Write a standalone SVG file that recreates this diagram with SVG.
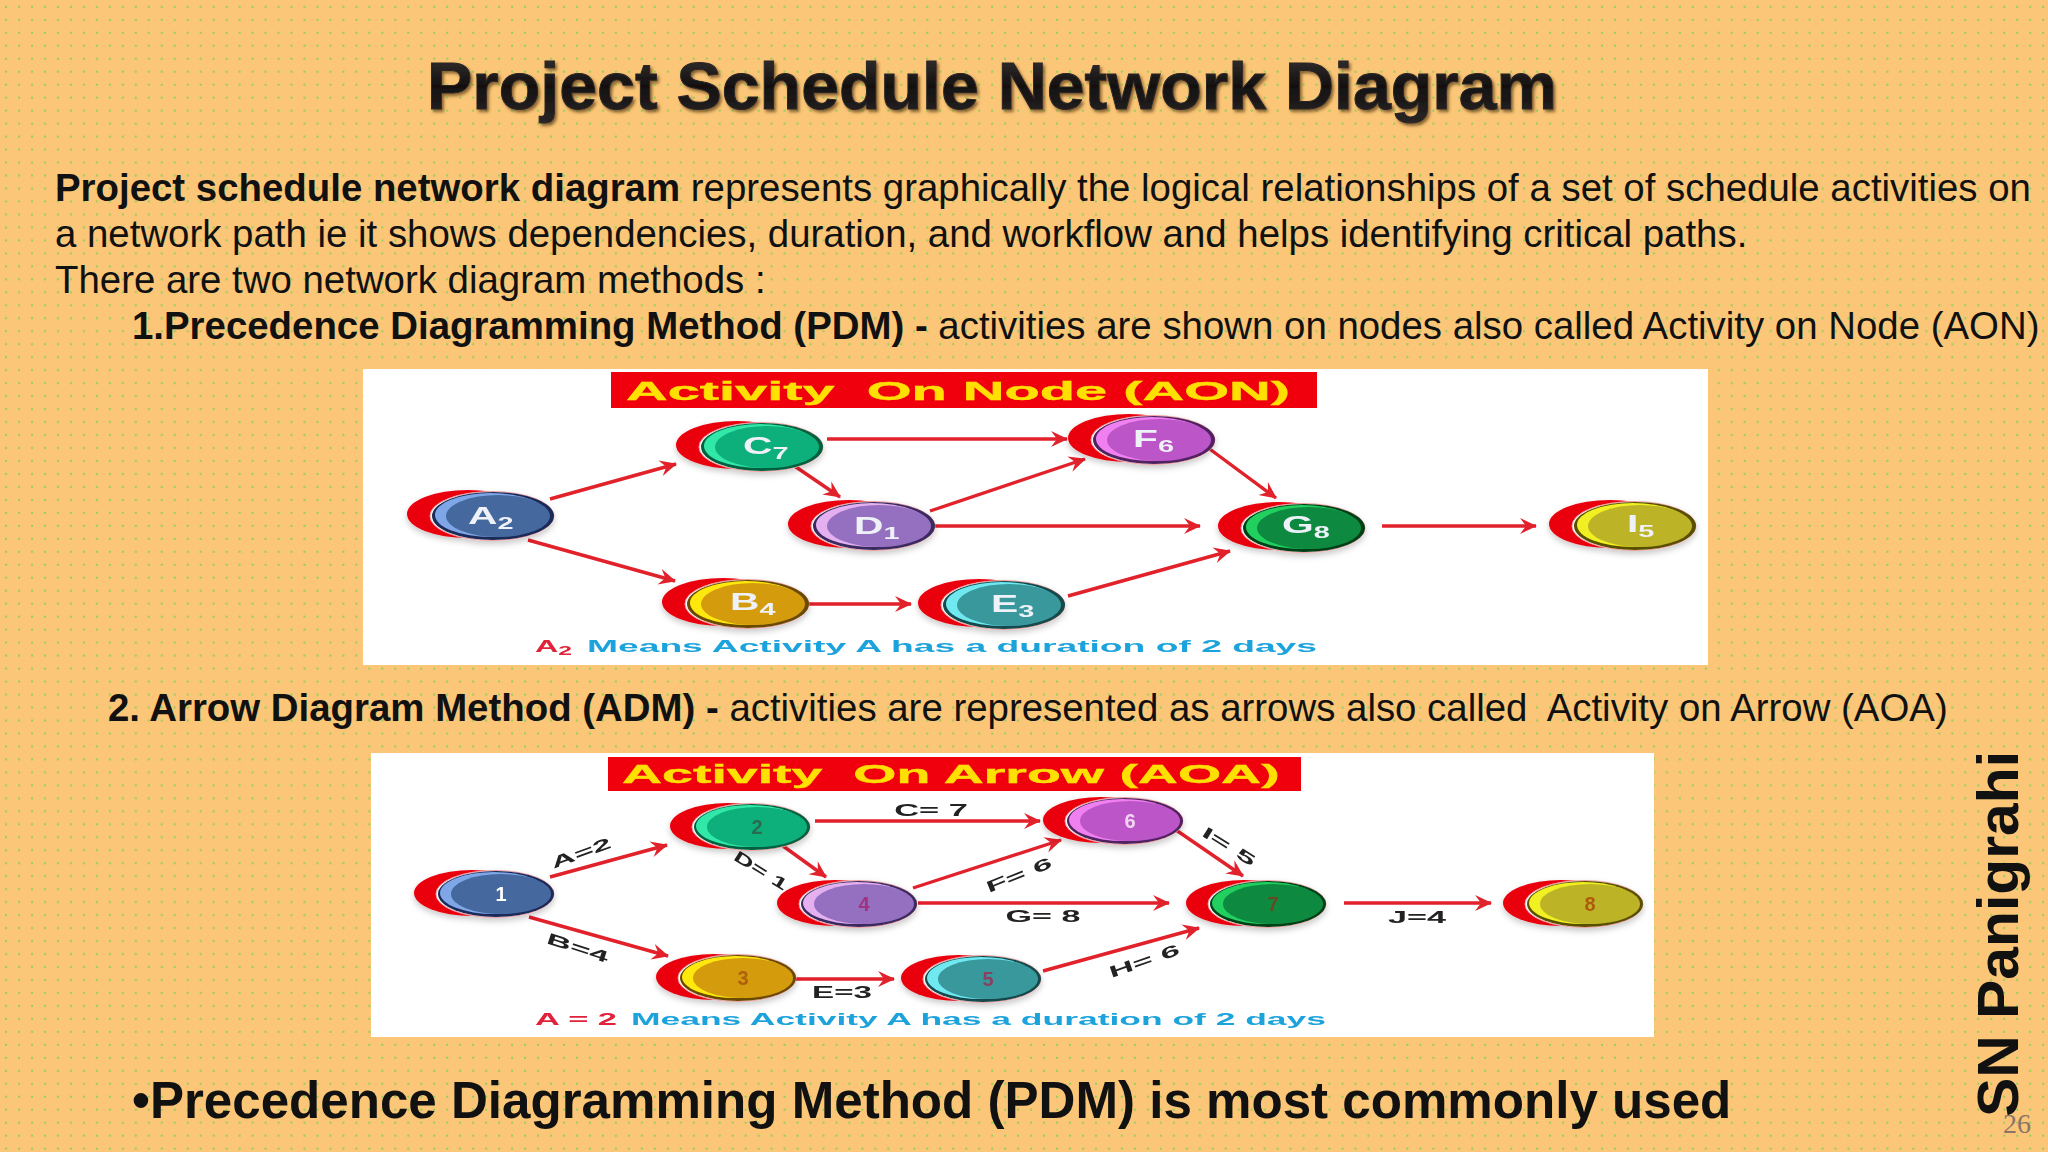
<svg xmlns="http://www.w3.org/2000/svg" width="2048" height="1152" viewBox="0 0 2048 1152">
<style>
text{font-family:"Liberation Sans",Arial,sans-serif;white-space:pre}
.body{font-size:38.4px;fill:#111}
.b{font-weight:bold}
.arrow{stroke:#e2202c;stroke-width:3.4;fill:none;marker-end:url(#head)}
.red{fill:#ea0010}
.ring{fill:#fff;stroke:#f0a0a0;stroke-width:1}
.hdr{fill:#ffe000;stroke:#ffe000;stroke-width:.4;font-weight:bold;font-size:25px}
.banner{fill:#f00010}
.photo{fill:#fff}
.lab{fill:#eef2f8;font-weight:bold;font-size:24px}
.sub{font-size:17px}
.num{font-size:20px;font-weight:bold;text-anchor:middle}
.el{font-size:16px;font-weight:bold;fill:#222;text-anchor:middle}
.cap{font-size:17px;font-weight:bold;fill:#1ea3dc}
.capr{font-size:17px;font-weight:bold;fill:#e0203a}
</style>
<defs>
<pattern id="dots" width="12.975" height="12.975" patternUnits="userSpaceOnUse" x="0" y="0">
<rect x="5.1" y="5.8" width="2" height="2" fill="#8fcf5e"/>
</pattern>
<linearGradient id="gloss" x1="0" y1="0" x2="0" y2="1"><stop offset="0" stop-color="#3c3838"/><stop offset=".5" stop-color="#141010"/><stop offset="1" stop-color="#2a2626"/></linearGradient>
<marker id="head" markerUnits="userSpaceOnUse" viewBox="-1 -10 20 20" refX="16" refY="0" markerWidth="20" markerHeight="20" orient="auto">
<path d="M0 -8L17 0L0 8L6 0Z" fill="#e2202c"/>
</marker>
<filter id="title" x="-5%" y="-20%" width="110%" height="140%"><feDropShadow dx="2" dy="2.5" stdDeviation="1.6" flood-color="#6a4a20" flood-opacity=".8"/></filter>
<filter id="soft" x="-20%" y="-30%" width="140%" height="170%"><feDropShadow dx="0" dy="3" stdDeviation="3" flood-color="#000" flood-opacity=".22"/></filter>
<filter id="blur" x="0" y="0" width="100%" height="100%"><feGaussianBlur stdDeviation=".6"/></filter>
</defs>
<rect width="2048" height="1152" fill="#fbc677"/>
<rect width="2048" height="1152" fill="url(#dots)"/>

<text id="title-text" x="427" y="109" font-size="66" font-weight="bold" fill="url(#gloss)" stroke="#2a2626" stroke-width="1" textLength="1130" lengthAdjust="spacingAndGlyphs" filter="url(#title)">Project Schedule Network Diagram</text>

<g id="intro">
<text class="body" x="55" y="201"><tspan class="b">Project schedule network diagram</tspan> represents graphically the logical relationships of a set of schedule activities on</text>
<text class="body" x="55" y="247">a network path ie it shows dependencies, duration, and workflow and helps identifying critical paths.</text>
<text class="body" x="55" y="293">There are two network diagram methods :</text>
<text class="body" x="132" y="339"><tspan class="b">1.Precedence Diagramming Method (PDM) - </tspan>activities are shown on nodes also called Activity on Node (AON)</text>
<text class="body" x="108" y="721"><tspan class="b">2. Arrow Diagram Method (ADM) - </tspan>activities are represented as arrows also called  Activity on Arrow (AOA)</text>
<text x="132" y="1118" font-size="51.1" font-weight="bold" fill="#111">•Precedence Diagramming Method (PDM) is most commonly used</text>
</g>

<g id="aon" filter="url(#blur)">
<rect class="photo" x="363" y="369" width="1345" height="296"/>
<rect class="banner" x="611" y="372" width="706" height="36"/>
<text class="hdr" transform="translate(626 400) scale(2.31 1)">Activity  On Node (AON)</text>

<g id="aon-connectors">
<line class="arrow" x1="550" y1="499" x2="676" y2="464"/>
<line class="arrow" x1="528" y1="540" x2="675" y2="581"/>
<line class="arrow" x1="793" y1="465" x2="840" y2="497"/>
<line class="arrow" x1="827" y1="439" x2="1067" y2="439"/>
<line class="arrow" x1="930" y1="511" x2="1085" y2="459"/>
<line class="arrow" x1="935" y1="526" x2="1200" y2="526"/>
<line class="arrow" x1="809" y1="604" x2="911" y2="604"/>
<line class="arrow" x1="1068" y1="596" x2="1230" y2="551"/>
<line class="arrow" x1="1207" y1="447" x2="1276" y2="498"/>
<line class="arrow" x1="1382" y1="526" x2="1536" y2="526"/>
</g>

<g id="aon-a" transform="translate(493 516)" filter="url(#soft)"><ellipse class="red" cx="-25" cy="-2" rx="61" ry="24"/><ellipse class="ring" cx="-1" rx="62" ry="24.5"/><ellipse fill="#1c2a5a" rx="61" ry="24"/><ellipse fill="#7fa6e6" cx="-2" cy="-1" rx="56" ry="22"/><ellipse fill="#45699e" cx="5" cy="0" rx="52" ry="21"/><text class="lab" transform="translate(-25 8) scale(1.7 1)">A<tspan class="sub" dy="5">2</tspan></text></g>
<g id="aon-c" transform="translate(762 447)" filter="url(#soft)"><ellipse class="red" cx="-25" cy="-2" rx="61" ry="24"/><ellipse class="ring" cx="-1" rx="62" ry="24.5"/><ellipse fill="#05603f" rx="61" ry="24"/><ellipse fill="#30e8a8" cx="-2" cy="-1" rx="56" ry="22"/><ellipse fill="#0fb07a" cx="5" cy="0" rx="52" ry="21"/><text class="lab" transform="translate(-19 7) scale(1.7 1)">C<tspan class="sub" dy="5">7</tspan></text></g>
<g id="aon-d" transform="translate(874 526)" filter="url(#soft)"><ellipse class="red" cx="-25" cy="-2" rx="61" ry="24"/><ellipse class="ring" cx="-1" rx="62" ry="24.5"/><ellipse fill="#3a2a60" rx="61" ry="24"/><ellipse fill="#e4b0f0" cx="-2" cy="-1" rx="56" ry="22"/><ellipse fill="#9670c0" cx="5" cy="0" rx="52" ry="21"/><text class="lab" transform="translate(-20 8) scale(1.7 1)">D<tspan class="sub" dy="5">1</tspan></text></g>
<g id="aon-b" transform="translate(748 604)" filter="url(#soft)"><ellipse class="red" cx="-25" cy="-2" rx="61" ry="24"/><ellipse class="ring" cx="-1" rx="62" ry="24.5"/><ellipse fill="#6a4a00" rx="61" ry="24"/><ellipse fill="#ffe810" cx="-2" cy="-1" rx="56" ry="22"/><ellipse fill="#d49c0c" cx="5" cy="0" rx="52" ry="21"/><text class="lab" transform="translate(-18 6) scale(1.7 1)">B<tspan class="sub" dy="5">4</tspan></text></g>
<g id="aon-e" transform="translate(1004 605)" filter="url(#soft)"><ellipse class="red" cx="-25" cy="-2" rx="61" ry="24"/><ellipse class="ring" cx="-1" rx="62" ry="24.5"/><ellipse fill="#14484c" rx="61" ry="24"/><ellipse fill="#70e8f0" cx="-2" cy="-1" rx="56" ry="22"/><ellipse fill="#38989c" cx="5" cy="0" rx="52" ry="21"/><text class="lab" transform="translate(-13 7) scale(1.7 1)">E<tspan class="sub" dy="5">3</tspan></text></g>
<g id="aon-f" transform="translate(1154 440)" filter="url(#soft)"><ellipse class="red" cx="-25" cy="-2" rx="61" ry="24"/><ellipse class="ring" cx="-1" rx="62" ry="24.5"/><ellipse fill="#502060" rx="61" ry="24"/><ellipse fill="#f080f0" cx="-2" cy="-1" rx="56" ry="22"/><ellipse fill="#bc55c8" cx="5" cy="0" rx="52" ry="21"/><text class="lab" transform="translate(-21 7) scale(1.7 1)">F<tspan class="sub" dy="5">6</tspan></text></g>
<g id="aon-g" transform="translate(1304 528)" filter="url(#soft)"><ellipse class="red" cx="-25" cy="-2" rx="61" ry="24"/><ellipse class="ring" cx="-1" rx="62" ry="24.5"/><ellipse fill="#044018" rx="61" ry="24"/><ellipse fill="#20d060" cx="-2" cy="-1" rx="56" ry="22"/><ellipse fill="#0c8a40" cx="5" cy="0" rx="52" ry="21"/><text class="lab" transform="translate(-22 5) scale(1.7 1)">G<tspan class="sub" dy="5">8</tspan></text></g>
<g id="aon-i" transform="translate(1635 526)" filter="url(#soft)"><ellipse class="red" cx="-25" cy="-2" rx="61" ry="24"/><ellipse class="ring" cx="-1" rx="62" ry="24.5"/><ellipse fill="#5a5000" rx="61" ry="24"/><ellipse fill="#f0f020" cx="-2" cy="-1" rx="56" ry="22"/><ellipse fill="#bcb428" cx="5" cy="0" rx="52" ry="21"/><text class="lab" transform="translate(-8 6) scale(1.7 1)">I<tspan class="sub" dy="5">5</tspan></text></g>

<text class="capr" transform="translate(535 652) scale(1.9 1)">A<tspan font-size="13" dy="3">2</tspan></text>
<text class="cap" transform="translate(587 652)" textLength="730" lengthAdjust="spacingAndGlyphs">Means Activity A has a duration of 2 days</text>
</g>

<g id="aoa" filter="url(#blur)">
<rect class="photo" x="371" y="753" width="1283" height="284"/>
<rect class="banner" x="608" y="757" width="693" height="34"/>
<text class="hdr" transform="translate(622 783) scale(2.22 1)">Activity  On Arrow (AOA)</text>

<g id="aoa-connectors">
<line class="arrow" x1="550" y1="877" x2="667" y2="845"/>
<line class="arrow" x1="529" y1="917" x2="668" y2="956"/>
<line class="arrow" x1="783" y1="846" x2="826" y2="877"/>
<line class="arrow" x1="815" y1="821" x2="1040" y2="821"/>
<line class="arrow" x1="913" y1="888" x2="1061" y2="840"/>
<line class="arrow" x1="918" y1="903" x2="1169" y2="903"/>
<line class="arrow" x1="796" y1="979" x2="894" y2="979"/>
<line class="arrow" x1="1043" y1="971" x2="1199" y2="928"/>
<line class="arrow" x1="1176" y1="830" x2="1243" y2="876"/>
<line class="arrow" x1="1344" y1="903" x2="1491" y2="903"/>
<text class="el" transform="translate(583 858) rotate(-20) scale(2.1 1)">A=2</text>
<text class="el" transform="translate(758 875) rotate(32) scale(1.75 1)">D= 1</text>
<text class="el" transform="translate(931 816) scale(2.15 1)">C= 7</text>
<text class="el" transform="translate(576 953) rotate(18) scale(2.15 1)">B=4</text>
<text class="el" transform="translate(842 998) scale(2.07 1)">E=3</text>
<text class="el" transform="translate(1021 880) rotate(-22) scale(2.15 1)">F= 6</text>
<text class="el" transform="translate(1043 922) scale(2.13 1)">G= 8</text>
<text class="el" transform="translate(1226 851) rotate(32) scale(2.2 1)">I= 5</text>
<text class="el" transform="translate(1146 966) rotate(-19) scale(2.15 1)">H= 6</text>
<text class="el" transform="translate(1417 923) scale(2.14 1)">J=4</text>
</g>

<g id="aoa-1" transform="translate(496 894)" filter="url(#soft)"><ellipse class="red" cx="-24" cy="-1" rx="58" ry="23"/><ellipse class="ring" cx="-1" rx="59" ry="23.5"/><ellipse fill="#1c2a5a" rx="58" ry="23"/><ellipse fill="#7fa6e6" cx="-2" cy="-1" rx="54" ry="21"/><ellipse fill="#45699e" cx="5" cy="0" rx="50" ry="20"/><text class="num" x="5" y="7" fill="#fff">1</text></g>
<g id="aoa-2" transform="translate(752 827)" filter="url(#soft)"><ellipse class="red" cx="-24" cy="-1" rx="58" ry="23"/><ellipse class="ring" cx="-1" rx="59" ry="23.5"/><ellipse fill="#05603f" rx="58" ry="23"/><ellipse fill="#30e8a8" cx="-2" cy="-1" rx="54" ry="21"/><ellipse fill="#0fb07a" cx="5" cy="0" rx="50" ry="20"/><text class="num" x="5" y="7" fill="#2a6a50">2</text></g>
<g id="aoa-4" transform="translate(859 904)" filter="url(#soft)"><ellipse class="red" cx="-24" cy="-1" rx="58" ry="23"/><ellipse class="ring" cx="-1" rx="59" ry="23.5"/><ellipse fill="#3a2a60" rx="58" ry="23"/><ellipse fill="#e4b0f0" cx="-2" cy="-1" rx="54" ry="21"/><ellipse fill="#9670c0" cx="5" cy="0" rx="50" ry="20"/><text class="num" x="5" y="7" fill="#a03080">4</text></g>
<g id="aoa-3" transform="translate(738 978)" filter="url(#soft)"><ellipse class="red" cx="-24" cy="-1" rx="58" ry="23"/><ellipse class="ring" cx="-1" rx="59" ry="23.5"/><ellipse fill="#6a4a00" rx="58" ry="23"/><ellipse fill="#ffe810" cx="-2" cy="-1" rx="54" ry="21"/><ellipse fill="#d49c0c" cx="5" cy="0" rx="50" ry="20"/><text class="num" x="5" y="7" fill="#b06010">3</text></g>
<g id="aoa-5" transform="translate(983 979)" filter="url(#soft)"><ellipse class="red" cx="-24" cy="-1" rx="58" ry="23"/><ellipse class="ring" cx="-1" rx="59" ry="23.5"/><ellipse fill="#14484c" rx="58" ry="23"/><ellipse fill="#70e8f0" cx="-2" cy="-1" rx="54" ry="21"/><ellipse fill="#38989c" cx="5" cy="0" rx="50" ry="20"/><text class="num" x="5" y="7" fill="#8a4060">5</text></g>
<g id="aoa-6" transform="translate(1125 821)" filter="url(#soft)"><ellipse class="red" cx="-24" cy="-1" rx="58" ry="23"/><ellipse class="ring" cx="-1" rx="59" ry="23.5"/><ellipse fill="#502060" rx="58" ry="23"/><ellipse fill="#f080f0" cx="-2" cy="-1" rx="54" ry="21"/><ellipse fill="#bc55c8" cx="5" cy="0" rx="50" ry="20"/><text class="num" x="5" y="7" fill="#f4d4f4">6</text></g>
<g id="aoa-7" transform="translate(1268 904)" filter="url(#soft)"><ellipse class="red" cx="-24" cy="-1" rx="58" ry="23"/><ellipse class="ring" cx="-1" rx="59" ry="23.5"/><ellipse fill="#044018" rx="58" ry="23"/><ellipse fill="#20d060" cx="-2" cy="-1" rx="54" ry="21"/><ellipse fill="#0c8a40" cx="5" cy="0" rx="50" ry="20"/><text class="num" x="5" y="7" fill="#6a4a20">7</text></g>
<g id="aoa-8" transform="translate(1585 904)" filter="url(#soft)"><ellipse class="red" cx="-24" cy="-1" rx="58" ry="23"/><ellipse class="ring" cx="-1" rx="59" ry="23.5"/><ellipse fill="#5a5000" rx="58" ry="23"/><ellipse fill="#f0f020" cx="-2" cy="-1" rx="54" ry="21"/><ellipse fill="#bcb428" cx="5" cy="0" rx="50" ry="20"/><text class="num" x="5" y="7" fill="#b05a10">8</text></g>

<text class="capr" transform="translate(535 1025)" textLength="82" lengthAdjust="spacingAndGlyphs">A = 2</text>
<text class="cap" transform="translate(631 1025)" textLength="695" lengthAdjust="spacingAndGlyphs">Means Activity A has a duration of 2 days</text>
</g>

<text id="author" transform="translate(2018 1117) rotate(-90)" font-size="58" font-weight="bold" fill="#111" textLength="366" lengthAdjust="spacingAndGlyphs">SN Panigrahi</text>
<text id="page" x="2003" y="1133" font-size="28" fill="#8a7468" style="font-family:'Liberation Serif',serif">26</text>
</svg>
